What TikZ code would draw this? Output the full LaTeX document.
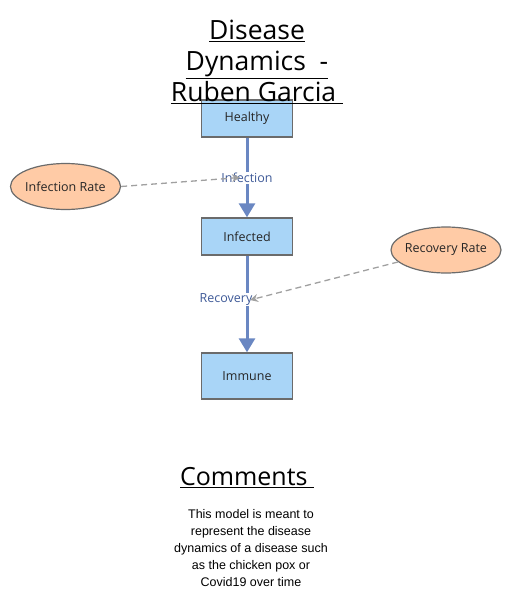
\documentclass[tikz,border=0pt]{standalone}
\usepackage{fontspec}
\setmainfont{Open Sans}
\newfontfamily\helv{Liberation Sans}
\usetikzlibrary{shapes.geometric,arrows.meta}
\definecolor{boxfill}{HTML}{A9D5F7}
\definecolor{boxline}{HTML}{6B6B6B}
\definecolor{ellfill}{HTML}{FFCBA6}
\definecolor{flowc}{HTML}{6A87C2}
\definecolor{labc}{HTML}{3F5A98}
\definecolor{dashc}{HTML}{A0A0A0}
\tikzset{
  stock/.style={draw=boxline, line width=1.4pt, fill=boxfill, minimum width=91pt, minimum height=37pt, inner sep=0pt, font=\fontsize{12.5}{14}\selectfont, text=black!85},
  param/.style={ellipse, draw=boxline, line width=1.2pt, fill=ellfill, minimum width=110pt, minimum height=46pt, inner sep=-3pt, font=\fontsize{12.5}{14}\selectfont, text=black!85},
  flow/.style={draw=flowc, line width=3pt, -{Triangle[length=14pt,width=16pt]}},
  flowlab/.style={fill=white, inner sep=1pt, text=labc, font=\fontsize{12.5}{14}\selectfont},
  link/.style={draw=dashc, line width=1.3pt, dash pattern=on 6pt off 4pt, -{Stealth[length=8pt,width=8pt]}},
}
\begin{document}
\begin{tikzpicture}[x=1pt,y=-1pt]
\useasboundingbox (0,0) rectangle (511,600);
\node[stock] (healthy) at (247,118.5) {Healthy};
\node[stock] (infected) at (247,236.5) {Infected};
\node[stock, minimum height=46pt] (immune) at (247,376) {Immune};
\node[param] (irate) at (65.5,186.5) {Infection Rate};
\node[param] (rrate) at (446,250) {Recovery Rate};
\draw[flow] (healthy.south) -- (infected.north);
\draw[flow] (infected.south) -- (immune.north);
\node[flowlab] (inflab) at (247,178) {Infection};
\node[flowlab] (reclab) at (226,299.5) {Recovery};
\coordinate (infend) at (240,177.5);
\coordinate (recend) at (250,300);
\draw[link] (irate.east) -- (infend);
\draw[link] (rrate.194) -- (recend);
\node[font=\fontsize{26.5}{31}\selectfont, align=center, inner sep=0pt, text=black] (title) at (257,62) {\underline{Disease}\\\underline{Dynamics\ \ -}\\\underline{Ruben Garcia\ }};
\node[font=\fontsize{25}{30}\selectfont, inner sep=0pt] (comments) at (247,478) {\underline{Comments\ }};
\node[font=\helv\fontsize{12.5}{17}\selectfont, align=center, inner sep=0pt] (body) at (251,548) {This model is meant to\\represent the disease\\dynamics of a disease such\\as the chicken pox or\\Covid19 over time};
\end{tikzpicture}
\end{document}
